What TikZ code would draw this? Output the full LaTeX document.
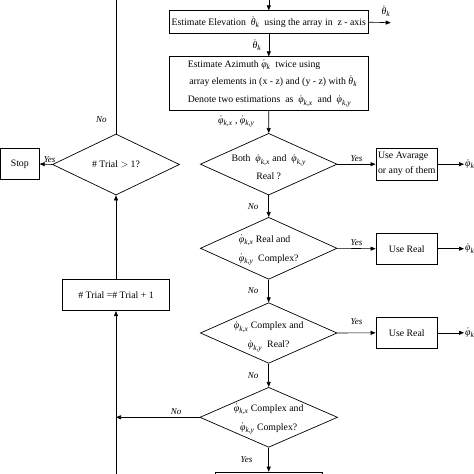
\documentclass[tikz,border=0pt]{standalone}
\usepackage{fontspec}
\setmainfont{Liberation Serif}
\usetikzlibrary{shapes.geometric,arrows.meta}
\newcommand\myph[1]{$\dot{\mbox{\itshape φ}}_{\mbox{\fontsize{7.5}{8}\selectfont\itshape #1}}$}
\newcommand\myth[1]{$\dot{\mbox{\itshape θ}}_{\mbox{\fontsize{7.5}{8}\selectfont\itshape #1}}$}
\begin{document}
\begin{tikzpicture}[x=1pt,y=-1pt,
  every node/.style={font=\fontsize{9.8}{12}\selectfont},
  box/.style={draw,line width=0.7pt,inner xsep=1pt,inner ysep=0pt},
  dia/.style={draw,diamond,line width=0.7pt,inner sep=0pt},
  dtext/.style={align=center,inner sep=0pt,font=\fontsize{9.8}{19}\selectfont},
  arr/.style={-{Triangle[length=5pt,width=4pt]},line width=0.6pt},
  ln/.style={line width=0.6pt},
  lab/.style={font=\itshape\fontsize{9}{11}\selectfont,inner sep=1pt}]
\useasboundingbox (0,0) rectangle (474,474);
% top boxes
\node[box,minimum width=199.7pt,minimum height=23pt,inner xsep=0pt] (elev) at (268.8,22.2)
  {Estimate Elevation \ \myth{k} \ using the array in \ z - axis};
\node[box,minimum width=199.7pt,minimum height=53.6pt] (azim) at (268.8,83.5) {};
\node[anchor=west,align=left,inner sep=0pt,font=\fontsize{9.8}{17.8}\selectfont] (azimtext) at ([xshift=19pt]azim.west)
  {Estimate Azimuth \myph{k} \ twice using\\
   \hspace*{1.5pt}array elements in (x - z) and (y - z) with \myth{k}\\
   Denote two estimations \ as \ \myph{k,x} \ and \ \myph{k,y}};
\coordinate (top) at (268.8,-5);
\coordinate (eo) at (390.7,22.7);
\node (eol) at (386,11) {\myth{k}};
\draw[arr] (top) -- (elev.north);
\draw[arr] (elev.east) -- (eo);
\draw[arr] (elev.south) -- node[left=4pt] {\myth{k}} (azim.north);
% decision chain
\node[dia,minimum width=136.7pt,minimum height=61.7pt] (d1) at (268.7,164.2) {};
\node[dtext,font=\fontsize{9.8}{17.4}\selectfont] (t1) at ([yshift=-3pt]d1.center) {Both \ \myph{k,x} and \ \myph{k,y}\\Real ?};
\node[dia,minimum width=136.7pt,minimum height=62pt] (d2) at (268.7,248.3) {};
\node[dtext,align=left] (t2) at ([yshift=-2pt]d2.center) {\myph{k,x} Real and\\\myph{k,y} \ Complex?};
\node[dia,minimum width=136.7pt,minimum height=60.6pt] (d3) at (268.7,333) {};
\node[dtext] (t3) at ([yshift=-4pt]d3.center) {\myph{k,x} Complex and\\\myph{k,y} \ Real?};
\node[dia,minimum width=137.7pt,minimum height=60pt] (d4) at (268.7,417.3) {};
\node[dtext] (t4) at ([yshift=-2pt]d4.center) {\myph{k,x} Complex and\\\myph{k,y} Complex?};
\draw[arr] (azim.south) -- node[left=14pt,inner sep=0pt] {\myph{k,x} , \myph{k,y}} (d1.north);
\draw[arr] (d1.south) -- node[lab,left=9pt] {No} (d2.north);
\draw[arr] (d2.south) -- node[lab,left=9pt] {No} (d3.north);
\draw[arr] (d3.south) -- node[lab,left=9pt] {No} (d4.north);
% right column
\node[box,minimum width=61.7pt,minimum height=31.7pt,align=left,inner xsep=2pt,font=\fontsize{9.8}{15}\selectfont] (b1) at (406.8,164.2) {Use Avarage\\or any of them};
\node[box,minimum width=61.7pt,minimum height=30.7pt] (b2) at (406.8,248.7) {Use Real};
\node[box,minimum width=61.7pt,minimum height=30.5pt] (b3) at (406.8,332.8) {Use Real};
\node[anchor=west,inner sep=1pt] (o1) at (464,164.2) {\myph{k}};
\node[anchor=west,inner sep=1pt] (o2) at (464,248.7) {\myph{k}};
\node[anchor=west,inner sep=1pt] (o3) at (464,332.8) {\myph{k}};
\draw[arr] (d1.east) -- node[lab,above=1pt] {Yes} (b1.west);
\draw[arr] (d2.east) -- node[lab,above=2pt] {Yes} (b2.west);
\draw[arr] (d3.east) -- node[lab,above=7pt] {Yes} (b3.west);
\draw[arr] (b1.east) -- (o1.west);
\draw[arr] (b2.east) -- (o2.west);
\draw[arr] (b3.east) -- (o3.west);
% bottom
\node[box,minimum width=107.3pt,minimum height=30pt,anchor=north] (bot) at (268.7,471.7) {};
\draw[arr] (d4.south) -- node[lab,left=15pt] {Yes} (bot.north);
% left loop
\node[dia,minimum width=127pt,minimum height=61pt] (d0) at (116,164.5) {};
\node[inner sep=0pt] (t0) at (d0.center) {\# Trial $>$ 1?};
\node[box,minimum width=39pt,minimum height=31pt] (stop) at (19.8,164) {Stop};
\node[box,minimum width=107.6pt,minimum height=31.4pt] (trial) at (116,295) {\# Trial =\# Trial + 1};
\coordinate (ltop) at (116,-5);
\coordinate (lbot) at (116,480);
\coordinate (j) at (116,417.3);
\draw[ln] (d0.north) -- node[lab,left=8pt,pos=0.1] {No} (ltop);
\draw[arr] (d0.west) -- node[lab,above=1pt,pos=0.2] {Yes} (stop.east);
\draw[arr] (trial.north) -- (d0.south);
\draw[arr] (lbot) -- (trial.south);
\draw[arr] (d4.west) -- node[lab,above=1pt,pos=0.28] {No} (j);
\end{tikzpicture}
\end{document}
